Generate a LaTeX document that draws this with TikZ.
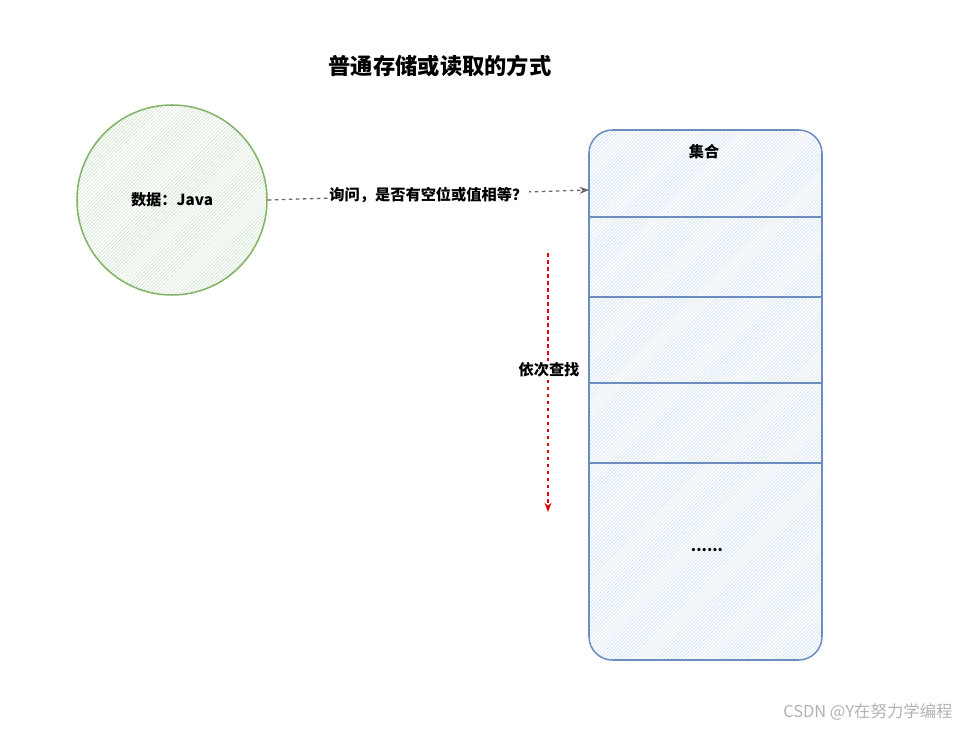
\documentclass[tikz,border=0pt]{standalone}
\usepackage{fontspec}
\setmainfont{Noto Sans CJK SC}
\usetikzlibrary{arrows.meta,patterns}
\definecolor{greenline}{HTML}{82B366}
\definecolor{greenfill}{HTML}{C5E0C3}
\definecolor{blueline}{HTML}{6C8EBF}
\definecolor{bluefill}{HTML}{C8DCF5}
\tikzset{
  x=0.3mm, y=-0.3mm,
  >={Stealth[open]},
  lbl/.style={text=black, font=\bfseries\fontsize{13}{15}\selectfont, inner sep=1pt},
  datacircle/.style={circle, draw=greenline, line width=1.3pt, minimum size=57mm,
    pattern=north east lines, pattern color=greenfill},
  setbox/.style={draw=blueline, line width=1.3pt, rounded corners=7mm,
    pattern=north east lines, pattern color=bluefill},
  sep/.style={draw=blueline, line width=1.1pt}
}
\begin{document}
\begin{tikzpicture}
\useasboundingbox (0,0) rectangle (970,729);
% title
\node[font=\bfseries\fontsize{19}{22}\selectfont] (title) at (440,66) {普通存储或读取的方式};
% data
\node[datacircle] (data) at (172,200) {};
\node[lbl] (datalabel) at (data) {数据：Java};
% set
\draw[setbox] (589,130) rectangle (822,660);
\coordinate (setin) at (589,190);
\node[lbl] (settitle) at (704,152) {集合};
\foreach \yy in {217,297,383,463}
  \draw[sep] (589,\yy) -- (822,\yy);
\node[lbl] (dots) at (707,550) {......};
% ask
\draw[->, dashed, gray!80!black, line width=1.1pt] (data.east) -- node[lbl, fill=white] {询问，是否有空位或值相等？} (setin);
% search
\coordinate (sstart) at (548,253);
\coordinate (send) at (548,512);
\draw[->, dashed, red!90!black, line width=1.1pt] (sstart) -- (send);
\node[lbl, fill=white] (search) at (549,370) {依次查找};
% watermark
\node[text=gray!60, font=\fontsize{14}{16}\selectfont] (mark) at (868,712) {CSDN @Y在努力学编程};
\end{tikzpicture}
\end{document}
